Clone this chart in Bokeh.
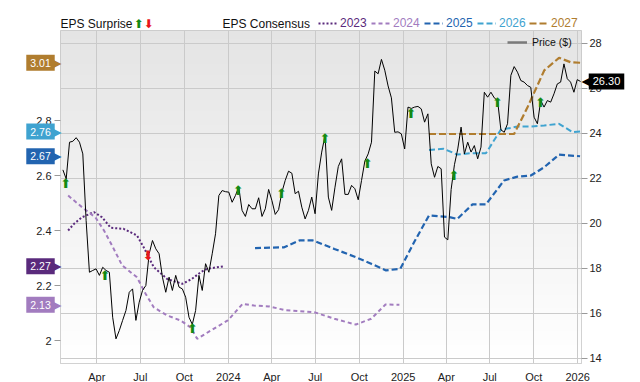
import numpy as np
import pandas as pd
from bokeh.plotting import figure
from bokeh.layouts import column
from bokeh.models import (Range1d, LinearAxis, FixedTicker, CustomJSTickFormatter, NumeralTickFormatter,
                          Label, Legend, LegendItem, ColumnDataSource)
from bokeh.core.properties import value
from bokeh.embed import file_html
from bokeh.resources import INLINE

# ---------------- data ----------------
price_start, price_end = "2023-01-20", "2026-01-07"
price_values = [
    22.37, 21.97, 23.60, 23.64, 23.80, 23.60, 23.08, 20.12, 17.82, 17.90,
    17.97, 17.68, 18.04, 17.90, 17.82, 15.82, 14.86, 15.23, 15.68, 16.12,
    16.93, 17.08, 15.68, 16.49, 17.01, 17.23, 18.64, 19.23, 18.86, 18.64,
    17.60, 16.93, 17.60, 17.01, 17.68, 17.16, 17.08, 16.71, 15.82, 15.50,
    16.12, 17.68, 17.01, 18.20, 17.82, 18.64, 19.53, 21.23, 21.45, 21.40,
    21.38, 20.93, 21.23, 21.60, 20.57, 20.30, 20.83, 20.64, 20.64, 21.13,
    20.30, 20.64, 21.50, 21.00, 20.39, 20.60, 21.38, 21.90, 22.31, 22.22,
    21.31, 21.42, 20.71, 20.19, 20.57, 21.16, 20.42, 22.19, 23.16, 23.90,
    21.16, 20.57, 21.60, 22.52, 22.86, 21.28, 21.28, 21.68, 21.53, 21.04,
    21.90, 22.76, 23.08, 23.60, 26.76, 26.64, 27.28, 26.80, 26.10, 25.57,
    24.04, 24.06, 23.97, 23.30, 25.16, 25.10, 25.16, 25.19, 25.08, 24.49,
    24.86, 22.64, 22.04, 22.52, 22.42, 19.38, 19.26, 21.50, 22.60, 23.30,
    24.27, 23.08, 23.60, 23.16, 23.45, 22.86, 23.38, 25.82, 25.60, 25.82,
    25.57, 25.45, 24.15, 24.04, 24.42, 26.57, 26.96, 26.71, 26.34, 26.27,
    26.12, 26.04, 24.71, 24.42, 25.45, 25.16, 25.45, 25.38, 25.75, 26.19,
    26.27, 27.08, 26.42, 26.27, 25.82, 26.38, 26.30]
last_price = 26.30

eps_2023_dates = ["2023-01-31", "2023-02-12", "2023-03-01", "2023-03-26", "2023-04-12", "2023-04-30",
                  "2023-05-27", "2023-06-24", "2023-07-08", "2023-07-29", "2023-08-26", "2023-09-27",
                  "2023-10-17", "2023-11-04", "2023-11-18", "2023-12-23"]
eps_2023 = [2.40, 2.424, 2.448, 2.467, 2.448, 2.41, 2.406, 2.382, 2.339, 2.267, 2.224, 2.206,
            2.224, 2.248, 2.261, 2.27]

eps_2024_dates = ["2023-01-31", "2023-03-05", "2023-03-29", "2023-04-16", "2023-05-03", "2023-05-24",
                  "2023-06-24", "2023-07-12", "2023-07-29", "2023-08-26", "2023-09-23", "2023-10-14",
                  "2023-10-28", "2023-11-25", "2023-12-31", "2024-01-31", "2024-02-24", "2024-03-27",
                  "2024-04-27", "2024-06-29", "2024-08-10", "2024-09-24", "2024-10-26", "2024-11-25",
                  "2024-12-24"]
eps_2024 = [2.527, 2.479, 2.448, 2.40, 2.345, 2.273, 2.23, 2.17, 2.121, 2.091, 2.073, 2.048,
            2.006, 2.036, 2.073, 2.133, 2.127, 2.124, 2.111, 2.103, 2.079, 2.058, 2.079, 2.131, 2.13]

eps_2025_dates = ["2024-02-26", "2024-04-27", "2024-05-29", "2024-06-26", "2024-08-10", "2024-09-24",
                  "2024-10-26", "2024-11-26", "2024-12-26", "2025-01-24", "2025-02-24", "2025-04-10",
                  "2025-04-24", "2025-05-26", "2025-06-23", "2025-07-31", "2025-08-28", "2025-09-25",
                  "2025-10-23", "2025-11-23", "2026-01-06"]
eps_2025 = [2.336, 2.339, 2.364, 2.364, 2.333, 2.303, 2.279, 2.255, 2.261, 2.358, 2.455, 2.448,
            2.442, 2.495, 2.495, 2.582, 2.596, 2.60, 2.63, 2.676, 2.67]

eps_2026_dates = ["2025-02-24", "2025-03-27", "2025-04-24", "2025-05-22", "2025-06-23", "2025-07-24",
                  "2025-08-28", "2025-09-25", "2025-10-23", "2025-11-23", "2025-12-21", "2026-01-06"]
eps_2026 = [2.693, 2.697, 2.676, 2.681, 2.681, 2.766, 2.778, 2.778, 2.782, 2.788, 2.758, 2.76]

eps_2027_dates = ["2025-02-24", "2025-08-21", "2025-09-18", "2025-10-23", "2025-11-23", "2025-12-17",
                  "2026-01-06"]
eps_2027 = [2.751, 2.751, 2.848, 2.982, 3.028, 3.012, 3.01]

surprise_dates = ["2023-01-26", "2023-04-18", "2023-07-17", "2023-10-18", "2024-01-22", "2024-04-21",
                  "2024-07-21", "2024-10-18", "2025-01-17", "2025-04-17", "2025-07-17", "2025-10-15"]
surprise_price = [21.75, 17.68, 18.56, 15.31, 21.45, 21.33, 23.75, 22.67, 24.89, 22.12, 25.38, 25.38]
surprise_beat = [True, True, False, True, True, True, True, True, True, True, True, True]

tick_dates = ["2023-04-01", "2023-07-01", "2023-10-01", "2024-01-01", "2024-04-01", "2024-07-01",
              "2024-10-01", "2025-01-01", "2025-04-01", "2025-07-01", "2025-10-01", "2026-01-01"]
tick_labels = ["Apr", "Jul", "Oct", "2024", "Apr", "Jul", "Oct", "2025", "Apr", "Jul", "Oct", "2026"]
price_ticks = [14, 16, 18, 20, 22, 24, 26, 28]
eps_ticks = [2.0, 2.2, 2.4, 2.6, 2.8]

# ---------------- styling ----------------
FONT = "Liberation Sans"
W = 640
LEFT = 60
FW, FH = 521, 333
RIGHT = W - LEFT - FW
HEAD_H = 30
X0, X1 = pd.Timestamp("2023-01-15"), pd.Timestamp("2026-01-09")
P1 = 28.564
P0 = P1 - FH / 22.5
E1 = 3.1273
E0 = E1 - FH / 275.0
UP, DOWN = "#138a13", "#e8151b"

years = [
    ("2023", eps_2023_dates, eps_2023, "#5a2a7c", "2 2", 2.0),
    ("2024", eps_2024_dates, eps_2024, "#a27cbf", "4 3", 2.0),
    ("2025", eps_2025_dates, eps_2025, "#2264b0", "6 3", 2.2),
    ("2026", eps_2026_dates, eps_2026, "#3fa3d0", "6 3", 2.0),
    ("2027", eps_2027_dates, eps_2027, "#b07d2f", "7 3", 2.2),
]

# ================= header (legend row) =================
# its frame is aligned with the chart frame, so x in data units == page pixels
h = figure(frame_width=FW, frame_height=HEAD_H, x_range=Range1d(LEFT, LEFT + FW),
           y_range=Range1d(HEAD_H, 0), x_axis_location=None, y_axis_location=None,
           output_backend="svg", toolbar_location=None,
           min_border_left=LEFT, min_border_right=RIGHT, min_border_top=0, min_border_bottom=0,
           outline_line_color=None)
h.grid.visible = False

def hlab(text, x, color="#111111", size="12px", font=FONT, align="left"):
    h.add_layout(Label(x=x, y=23, text=text, text_color=color, text_font=font,
                       text_font_size=size, text_baseline="middle", text_align=align))

hlab("EPS Surprise", 60)
hlab("\u2b06", 138, color=UP, size="12px", font="DejaVu Sans", align="center")
hlab("\u2b07", 148, color=DOWN, size="12px", font="DejaVu Sans", align="center")
hlab("EPS Consensus", 222)

leg_x = {"2023": 318, "2024": 371, "2025": 424, "2026": 477, "2027": 529}
for name, dts, vals, col, dash, lw in years:
    dr = h.line(x=[np.nan], y=[np.nan], line_color=col, line_width=lw, line_dash=dash)
    lg = Legend(items=[LegendItem(label=name, renderers=[dr])],
                location=(leg_x[name] - LEFT, 0), orientation="horizontal",
                background_fill_alpha=0, border_line_alpha=0, padding=0, margin=0, spacing=0,
                glyph_width=19, glyph_height=14, label_standoff=3, label_height=14, label_width=10,
                label_text_color=col, label_text_font=FONT, label_text_font_size="12px")
    h.add_layout(lg)

# ================= main chart =================
p = figure(frame_width=FW, frame_height=FH, x_axis_type="datetime", y_axis_location="right",
           x_range=Range1d(X0, X1), y_range=Range1d(P0, P1),
           output_backend="svg", toolbar_location=None,
           min_border_left=LEFT, min_border_right=RIGHT, min_border_top=0, min_border_bottom=8)
p.extra_y_ranges = {"eps": Range1d(E0, E1)}
p.outline_line_color = "#c4c4c4"
p.outline_line_width = 1
p.background_fill_color = "white"
p.border_fill_color = "white"

# gradient background
n = 120
img = np.zeros((n, 1), dtype=np.uint32)
view = img.view(dtype=np.uint8).reshape((n, 1, 4))
for i in range(n):
    c = int(round(255 - 27 * (i / (n - 1))))
    view[i, 0, :] = [c, c, c, 255]
p.image_rgba(image=[img], x=X0, y=P0, dw=(X1 - X0).total_seconds() * 1000, dh=P1 - P0, level="image")

# grid
tick_ms = [pd.Timestamp(d).value / 1e6 for d in tick_dates]
p.xgrid.ticker = FixedTicker(ticks=tick_ms)
p.ygrid.ticker = FixedTicker(ticks=price_ticks)
for g in (p.xgrid[0], p.ygrid[0]):
    g.grid_line_color = "#cacaca"
    g.grid_line_width = 1

# x axis
xa = p.xaxis[0]
xa.ticker = FixedTicker(ticks=tick_ms)
xa.formatter = CustomJSTickFormatter(args=dict(tks=tick_ms, lbls=tick_labels),
                                     code="const i = tks.indexOf(tick); return i < 0 ? '' : lbls[i];")
xa.axis_line_color = None
xa.major_tick_line_color = None
xa.minor_tick_line_color = None
xa.major_label_standoff = 1
xa.major_label_text_font = FONT
xa.major_label_text_font_size = "11px"
xa.major_label_text_color = "#222222"

# right (price) axis
ya = p.yaxis[0]
ya.ticker = FixedTicker(ticks=price_ticks)
ya.axis_line_color = None
ya.major_tick_out = 6
ya.major_tick_in = 0
ya.major_tick_line_color = "#999999"
ya.minor_tick_line_color = None
ya.major_label_standoff = 2
ya.major_label_text_font = FONT
ya.major_label_text_font_size = "11px"
ya.major_label_text_color = "#222222"

# left (eps) axis
la = LinearAxis(y_range_name="eps", ticker=FixedTicker(ticks=eps_ticks),
                formatter=NumeralTickFormatter(format="0.[0]"))
la.axis_line_color = None
la.major_tick_out = 6
la.major_tick_in = 0
la.major_tick_line_color = "#999999"
la.minor_tick_line_color = None
la.major_label_standoff = 3
la.major_label_text_font = FONT
la.major_label_text_font_size = "11px"
la.major_label_text_color = "#222222"
p.add_layout(la, "left")

# consensus lines
for name, dts, vals, col, dash, lw in years:
    p.line(x=pd.to_datetime(dts), y=vals, y_range_name="eps", line_color=col,
           line_width=lw, line_dash=dash)

# price line
price_dates = pd.date_range(price_start, price_end, periods=len(price_values))
p.line(x=price_dates, y=price_values, line_color="black", line_width=1)

# surprise arrows
src = ColumnDataSource(dict(
    x=pd.to_datetime(surprise_dates), y=surprise_price,
    t=["\u2b06" if b else "\u2b07" for b in surprise_beat],
    c=[UP if b else DOWN for b in surprise_beat]))
p.text(x="x", y="y", text="t", text_color="c", source=src, text_font=value("DejaVu Sans"),
       text_font_size="13px", text_align="center", text_baseline="middle")

# price legend (inside the frame)
dummy = p.line(x=[np.nan], y=[np.nan], line_color="#7a7a7a", line_width=2.5)
plg = Legend(items=[LegendItem(label="Price ($)", renderers=[dummy])], location=(447, FH - 19),
             background_fill_alpha=0, border_line_alpha=0, padding=0, margin=0, spacing=0,
             glyph_width=20, glyph_height=14, label_standoff=5, label_height=14,
             label_text_color="#111111", label_text_font=FONT, label_text_font_size="10.5px")
p.add_layout(plg)

# left value tags (latest consensus) drawn as overlay glyphs just outside the frame
tag_vals = [y[2][-1] for y in years]
tag_cols = [y[3] for y in years]
tsrc = ColumnDataSource(dict(x=[X0] * len(tag_vals), y=tag_vals,
                             t=[f"{v:.2f}" for v in tag_vals], c=tag_cols))
p.text(x="x", y="y", text=value("\u25b6"), text_color="c", source=tsrc,
       y_range_name="eps", text_font=value("DejaVu Sans"), text_font_size="15px",
       text_align="right", text_baseline="middle", x_offset=1, level="overlay")
p.text(x="x", y="y", text="t", source=tsrc, y_range_name="eps", text_color="white",
       text_font=value(FONT), text_font_size="10.5px", text_align="center", text_baseline="middle",
       x_offset=-20, background_fill_color="c", padding=4, level="overlay")

# right price tag
psrc = ColumnDataSource(dict(x=[X1], y=[last_price], t=[f"{last_price:.2f}"]))
p.text(x="x", y="y", text=value("\u25c0"), text_color="black", source=psrc,
       text_font=value("DejaVu Sans"), text_font_size="15px", text_align="left",
       text_baseline="middle", x_offset=0, level="overlay")
p.text(x="x", y="y", text="t", source=psrc, text_color="white", text_font=value(FONT),
       text_font_size="11px", text_align="center", text_baseline="middle", x_offset=25,
       background_fill_color="black", padding=4, level="overlay")

layout = column(h, p, spacing=0)
open("out.html", "w").write(file_html(layout, INLINE))
